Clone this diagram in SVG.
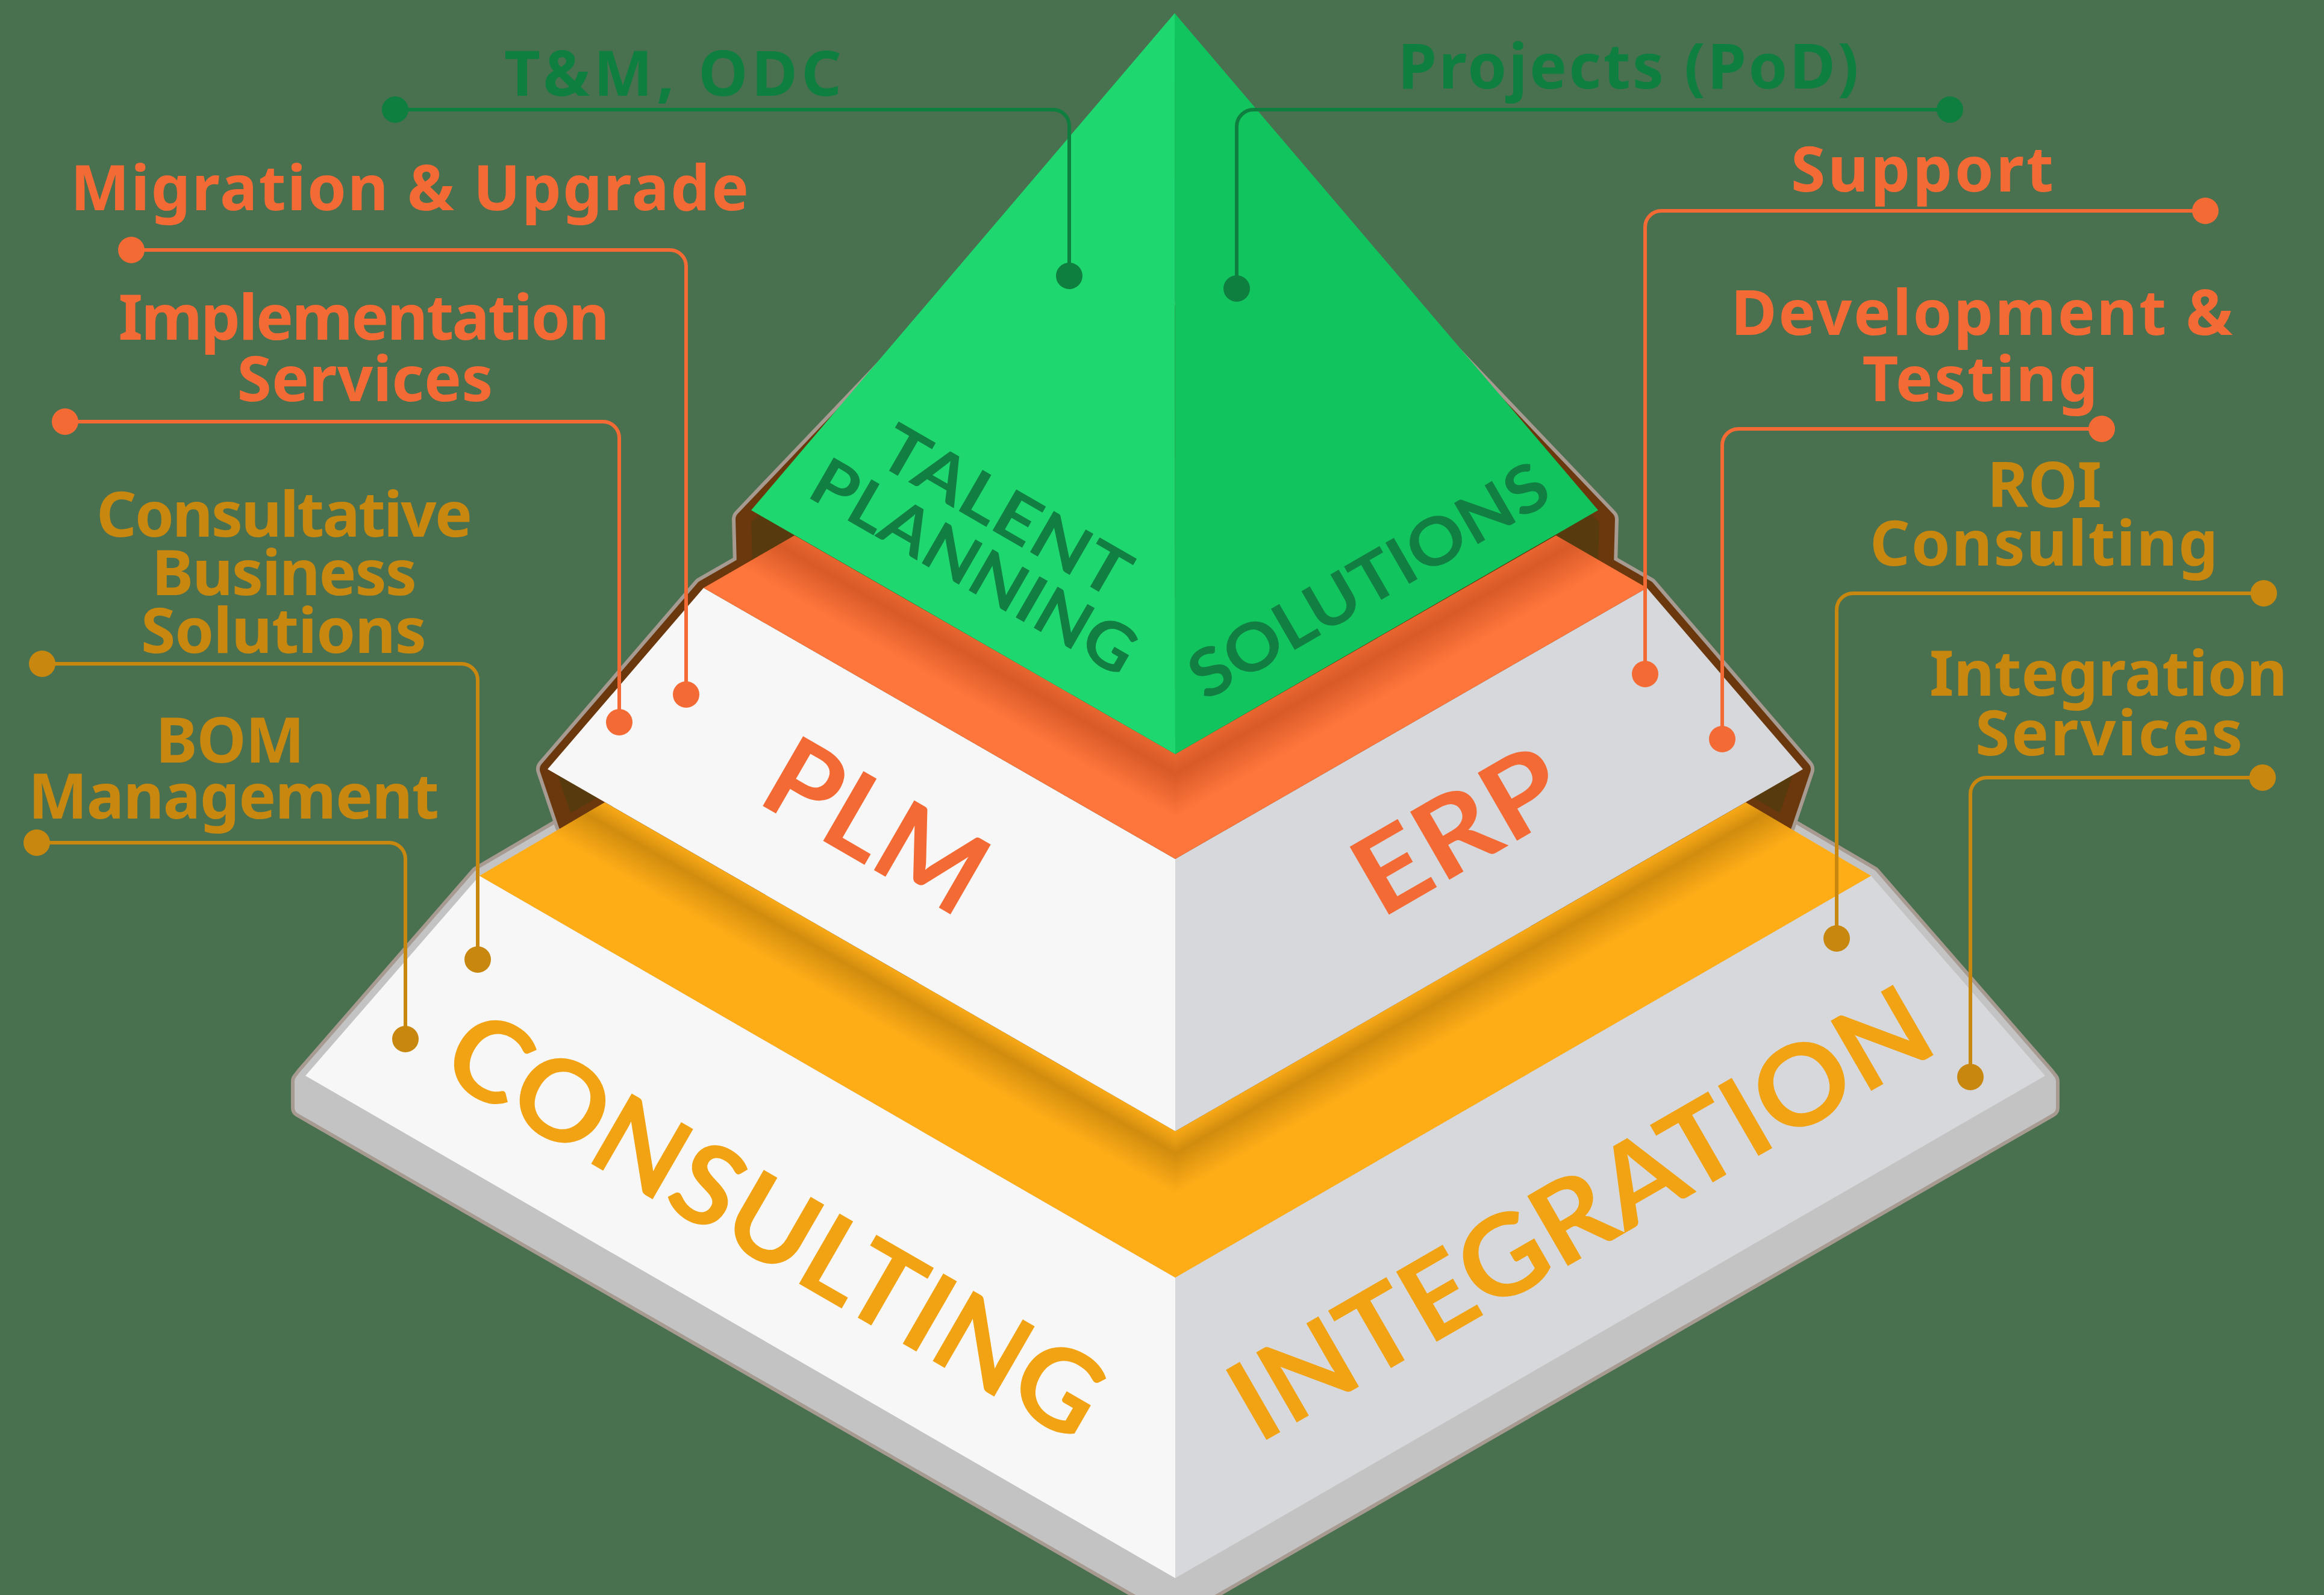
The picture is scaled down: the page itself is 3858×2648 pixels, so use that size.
<svg xmlns="http://www.w3.org/2000/svg" width="3858" height="2648" viewBox="0 0 3858 2648">
<defs>
<style>
.lbl{font-family:"Noto Sans","Liberation Sans",sans-serif;font-weight:700;font-size:104px;text-anchor:middle}
.face{font-family:Lato,"Noto Sans","Liberation Sans",sans-serif;font-weight:700;text-anchor:middle}
.or{fill:#F46A35}.gd{fill:#C8870F}.gn{fill:#0F7F40}
.cor{fill:none;stroke:#F46A35;stroke-width:6}
.cgd{fill:none;stroke:#C8870F;stroke-width:6}
.cgn{fill:none;stroke:#0F7F40;stroke-width:6}
.dor{fill:#F46A35}.dgd{fill:#C8870F}.dgn{fill:#0F7F40}
</style>
<linearGradient id="shOL" gradientUnits="userSpaceOnUse" x1="1600" y1="1051" x2="1555" y2="1129">
<stop offset="0" stop-color="#B03E12" stop-opacity="0.3"/><stop offset="0.3" stop-color="#B03E12" stop-opacity="0.5"/><stop offset="1" stop-color="#B03E12" stop-opacity="0"/></linearGradient>
<linearGradient id="shOR" gradientUnits="userSpaceOnUse" x1="2302" y1="1051" x2="2347" y2="1129">
<stop offset="0" stop-color="#B03E12" stop-opacity="0.3"/><stop offset="0.3" stop-color="#B03E12" stop-opacity="0.5"/><stop offset="1" stop-color="#B03E12" stop-opacity="0"/></linearGradient>
<linearGradient id="shYL" gradientUnits="userSpaceOnUse" x1="1430" y1="1578" x2="1385" y2="1656">
<stop offset="0" stop-color="#8E5A00" stop-opacity="0.05"/><stop offset="0.35" stop-color="#8E5A00" stop-opacity="0.4"/><stop offset="1" stop-color="#8E5A00" stop-opacity="0"/></linearGradient>
<linearGradient id="shYR" gradientUnits="userSpaceOnUse" x1="2472" y1="1578" x2="2517" y2="1656">
<stop offset="0" stop-color="#8E5A00" stop-opacity="0.05"/><stop offset="0.35" stop-color="#8E5A00" stop-opacity="0.4"/><stop offset="1" stop-color="#8E5A00" stop-opacity="0"/></linearGradient>
</defs>
<rect width="3858" height="2648" fill="#49714F"/>

<g id="tier-bottom">
<path d="M507,1786 L796,1454 L1004,1332 L1100,1277 L2802,1277 L2898,1332 L3106,1454 L3395,1786 L3402,1795 L3402,1839 L1951,2673 L500,1839 L500,1795 Z" fill="#A69A91" stroke="#A69A91" stroke-width="34" stroke-linejoin="round"/>
<path d="M507,1786 L796,1454 L1004,1332 L1100,1277 L2802,1277 L2898,1332 L3106,1454 L3395,1786 L3402,1795 L3402,1839 L1951,2673 L500,1839 L500,1795 Z" fill="#C3C3C3" stroke="#C3C3C3" stroke-width="22" stroke-linejoin="round"/>
<polygon points="796,1454 507,1786 1951,2620 1951,2121" fill="#F7F7F7"/>
<polygon points="3106,1454 3395,1786 1951,2620 1951,2121" fill="#D7D8DB"/>
</g>

<g id="tier-middle-rim">
<path d="M1951,1878 L1004,1332 L940,1369 L909,1277 L1168,976 L1236,937 L1234,862 L1560,520 L2342,520 L2668,862 L2666,937 L2734,976 L2993,1277 L2962,1369 L2898,1332 Z" fill="#A69A91" stroke="#A69A91" stroke-width="38" stroke-linejoin="round"/>
<path d="M1951,1878 L1004,1332 L940,1369 L909,1277 L1168,976 L1236,937 L1234,862 L1560,520 L2342,520 L2668,862 L2666,937 L2734,976 L2993,1277 L2962,1369 L2898,1332 Z" fill="#573A0E" stroke="#6B380D" stroke-width="26" stroke-linejoin="round"/>
</g>

<g id="tier-bottom-top">
<polygon points="796,1454 1004,1332 1951,1878 2898,1332 3106,1454 1951,2121" fill="#FEAD17"/>
<polygon points="1004,1332 1951,1878 1951,2121 796,1454" fill="url(#shYL)"/>
<polygon points="2898,1332 1951,1878 1951,2121 3106,1454" fill="url(#shYR)"/>
<text class="face" font-size="186" fill="#F2A313" textLength="1225" lengthAdjust="spacingAndGlyphs" transform="translate(1255,2090) rotate(30)">CONSULTING</text>
<text class="face" font-size="186" fill="#F2A313" textLength="1310" lengthAdjust="spacingAndGlyphs" transform="translate(2656,2071) rotate(-30)">INTEGRATION</text>
</g>

<g id="tier-middle">
<polygon points="1168,976 909,1277 1951,1878 1951,1426" fill="#F7F7F7"/>
<polygon points="2734,976 2993,1277 1951,1878 1951,1426" fill="#D7D8DB"/>
<polygon points="1168,976 1319,889 1951,1252 2583,889 2734,976 1951,1426" fill="#FF763C"/>
<polygon points="1319,889 1951,1252 1951,1426 1168,976" fill="url(#shOL)"/>
<polygon points="2583,889 1951,1252 1951,1426 2734,976" fill="url(#shOR)"/>
<text class="face" font-size="185" fill="#F46A35" textLength="390" lengthAdjust="spacingAndGlyphs" transform="translate(1422,1428) rotate(30)">PLM</text>
<text class="face" font-size="180" fill="#F46A35" textLength="370" lengthAdjust="spacingAndGlyphs" transform="translate(2452,1434) rotate(-30)">ERP</text>
</g>

<g id="tier-top">
<polygon points="1950,22 1247,847 1951,1252" fill="#1ED86F"/>
<polygon points="1950,22 2653,847 1951,1252" fill="#12C45E"/>
<text class="face" font-size="109" fill="#117F42" textLength="460" lengthAdjust="spacingAndGlyphs" transform="translate(1650,882) rotate(30)">TALENT</text>
<text class="face" font-size="109" fill="#117F42" textLength="604" lengthAdjust="spacingAndGlyphs" transform="translate(1598,974) rotate(30)">PLANNING</text>
<text class="face" font-size="109" fill="#117F42" textLength="670" lengthAdjust="spacingAndGlyphs" transform="translate(2291,997) rotate(-30)">SOLUTIONS</text>
</g>

<g id="connectors">
<path class="cgn" d="M656,182 H1748 A27,27 0 0 1 1775,209 V458"/>
<circle class="dgn" cx="656" cy="182" r="22"/><circle class="dgn" cx="1775" cy="458" r="22"/>
<path class="cgn" d="M3237,182 H2081 A28,28 0 0 0 2053,210 V479"/>
<circle class="dgn" cx="3237" cy="182" r="22"/><circle class="dgn" cx="2053" cy="479" r="22"/>
<path class="cor" d="M218,415 H1112 A27,27 0 0 1 1139,442 V1153"/>
<circle class="dor" cx="218" cy="415" r="22"/><circle class="dor" cx="1139" cy="1153" r="22"/>
<path class="cor" d="M108,700 H1001 A27,27 0 0 1 1028,727 V1199"/>
<circle class="dor" cx="108" cy="700" r="22"/><circle class="dor" cx="1028" cy="1199" r="22"/>
<path class="cgd" d="M70,1102 H766 A27,27 0 0 1 793,1129 V1593"/>
<circle class="dgd" cx="70" cy="1102" r="22"/><circle class="dgd" cx="793" cy="1593" r="22"/>
<path class="cgd" d="M61,1399 H646 A27,27 0 0 1 673,1426 V1725"/>
<circle class="dgd" cx="61" cy="1399" r="22"/><circle class="dgd" cx="673" cy="1725" r="22"/>
<path class="cor" d="M3661,350 H2758 A27,27 0 0 0 2731,377 V1119"/>
<circle class="dor" cx="3661" cy="350" r="22"/><circle class="dor" cx="2731" cy="1119" r="22"/>
<path class="cor" d="M3489,712 H2886 A27,27 0 0 0 2859,739 V1227"/>
<circle class="dor" cx="3489" cy="712" r="22"/><circle class="dor" cx="2859" cy="1227" r="22"/>
<path class="cgd" d="M3758,985 H3076 A27,27 0 0 0 3049,1012 V1558"/>
<circle class="dgd" cx="3758" cy="985" r="22"/><circle class="dgd" cx="3049" cy="1558" r="22"/>
<path class="cgd" d="M3756,1291 H3298 A27,27 0 0 0 3271,1318 V1788"/>
<circle class="dgd" cx="3756" cy="1291" r="22"/><circle class="dgd" cx="3271" cy="1788" r="22"/>
</g>

<g id="label-tm"><text class="lbl gn" x="1117" y="159" textLength="560">T&amp;M, ODC</text></g>
<g id="label-projects"><text class="lbl gn" x="2703" y="147" textLength="765">Projects (PoD)</text></g>
<g id="label-migration"><text class="lbl or" x="680" y="349" textLength="1126">Migration &amp; Upgrade</text></g>
<g id="label-implementation"><text class="lbl or" x="604" y="564" textLength="815">Implementation</text><text class="lbl or" x="606" y="666" textLength="425">Services</text></g>
<g id="label-consultative"><text class="lbl gd" x="472" y="891" textLength="624">Consultative</text><text class="lbl gd" x="472" y="988" textLength="440">Business</text><text class="lbl gd" x="471" y="1084" textLength="474">Solutions</text></g>
<g id="label-bom"><text class="lbl gd" x="382" y="1266" textLength="247">BOM</text><text class="lbl gd" x="388" y="1359" textLength="682">Management</text></g>
<g id="label-support"><text class="lbl or" x="3191" y="318" textLength="436">Support</text></g>
<g id="label-development"><text class="lbl or" x="3290" y="556" textLength="833">Development &amp;</text><text class="lbl or" x="3287" y="666" textLength="391">Testing</text></g>
<g id="label-roi"><text class="lbl gd" x="3394" y="842" textLength="190">ROI</text><text class="lbl gd" x="3393" y="939" textLength="578">Consulting</text></g>
<g id="label-integration"><text class="lbl gd" x="3500" y="1155" textLength="594">Integration</text><text class="lbl gd" x="3501" y="1254" textLength="444">Services</text></g>
</svg>
